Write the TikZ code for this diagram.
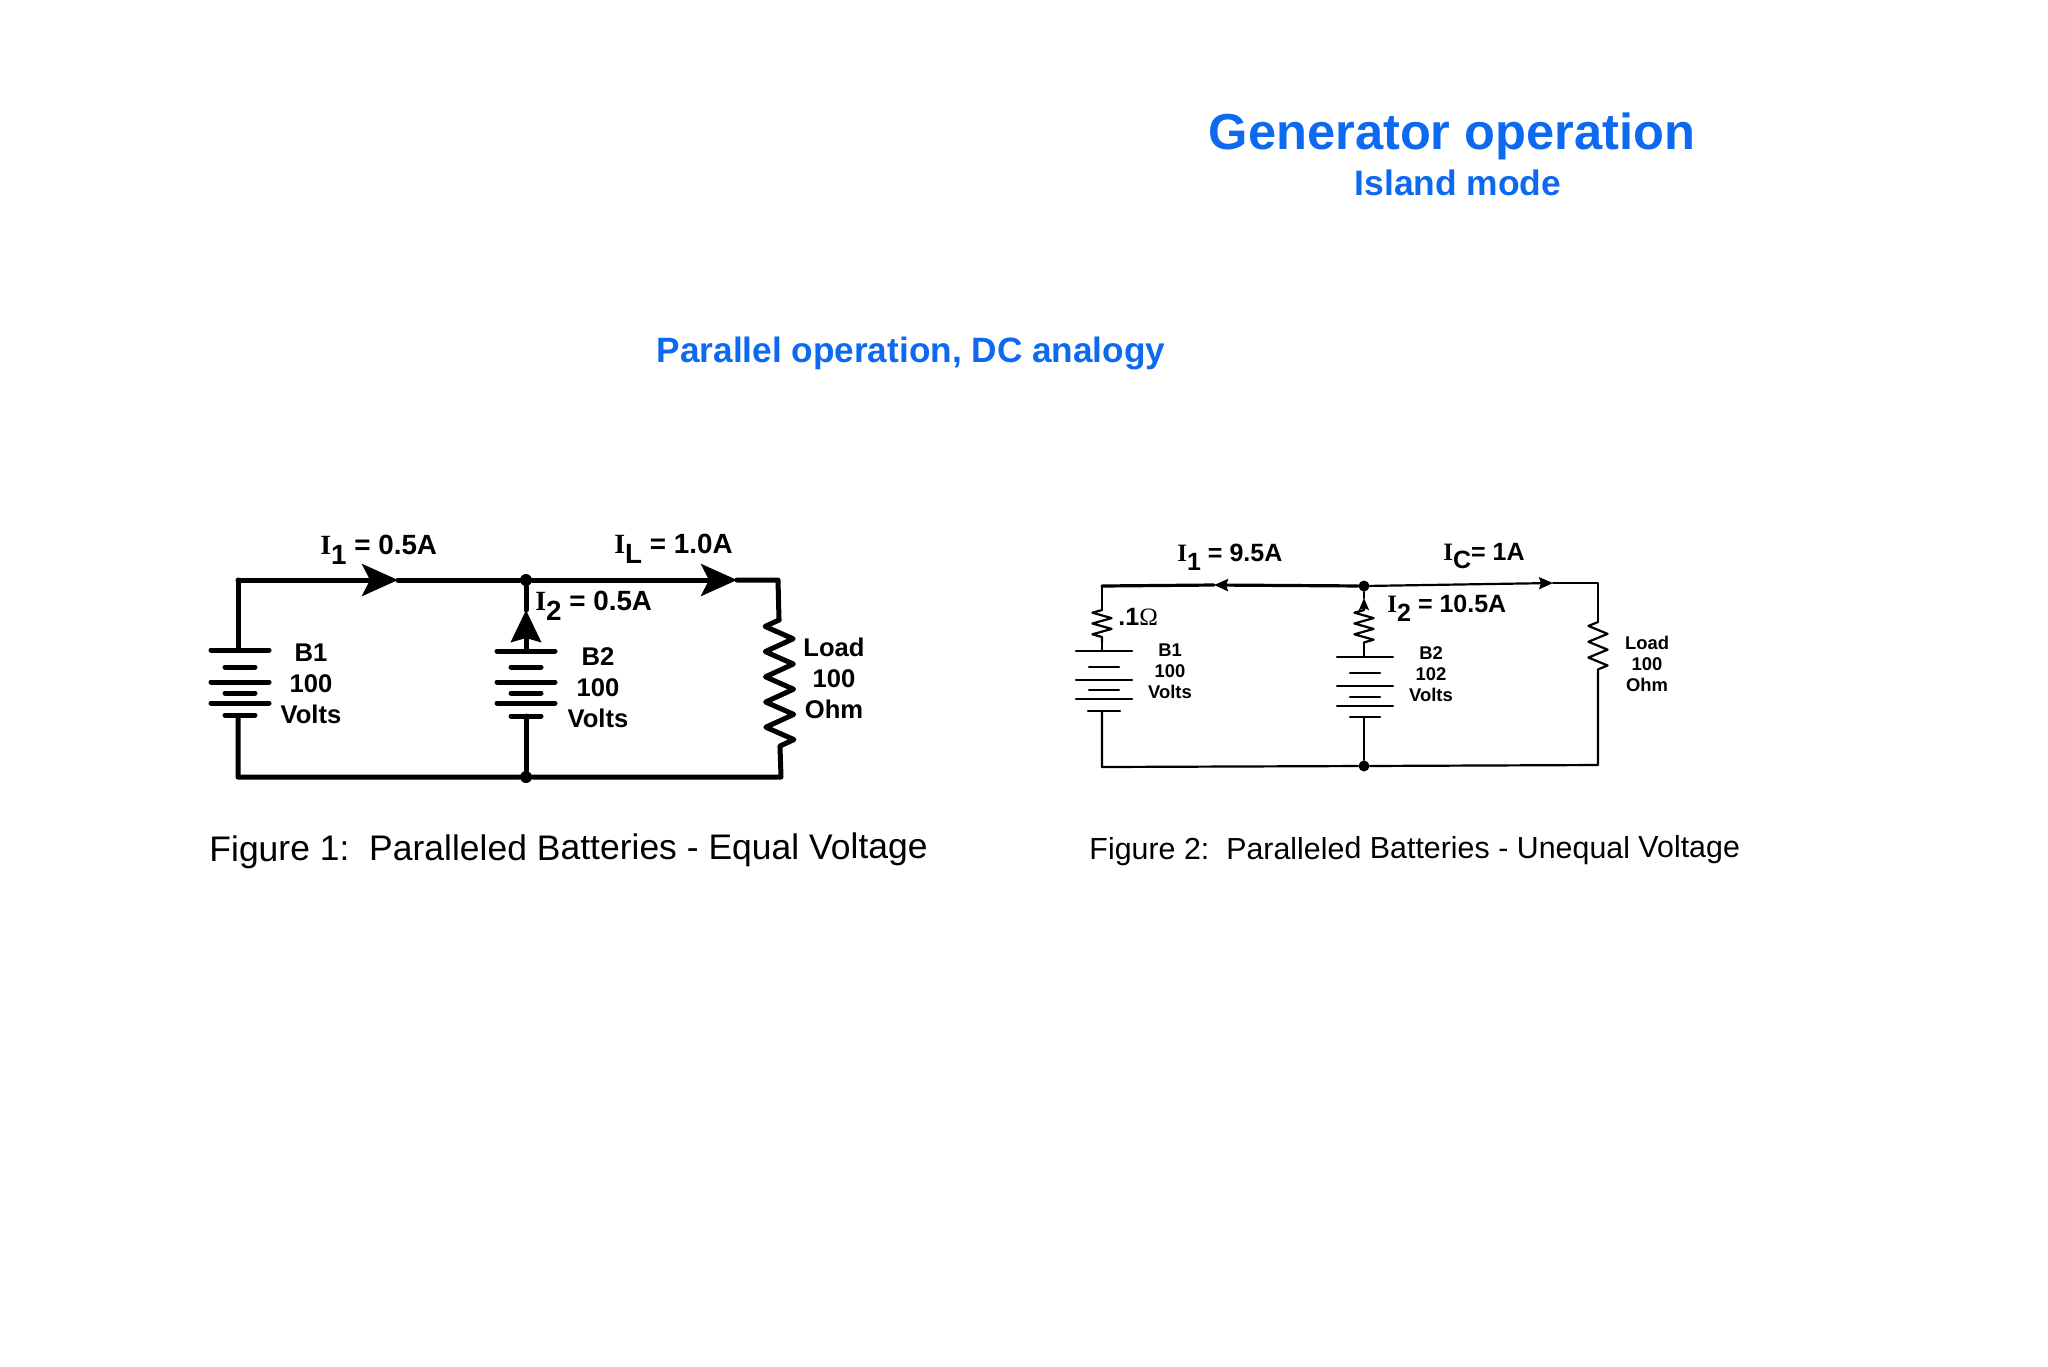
\documentclass[tikz,border=0pt]{standalone}
\usepackage{fontspec}
\setmainfont{Liberation Sans}
\newfontfamily\serifbold{Liberation Serif}
\usetikzlibrary{arrows.meta,decorations.pathmorphing}
\definecolor{titleblue}{RGB}{13,105,240}
\newcommand{\curr}[2]{{\serifbold\bfseries I}\raisebox{-.65ex}{#1}#2}
\tikzset{
    wirea/.style={line width=2.5pt,line cap=round,line join=round},
    wireb/.style={line width=1.1pt,line cap=round,line join=round},
    resa/.style={wirea,decorate,decoration={zigzag,mirror,segment length=12.6pt,amplitude=7pt}},
    resb/.style={wireb,decorate,decoration={zigzag,mirror,segment length=5.4pt,amplitude=4.8pt}},
    resc/.style={wireb,decorate,decoration={zigzag,mirror,segment length=7.9pt,amplitude=4.8pt}},
    dota/.style={circle,fill=black,inner sep=0pt,minimum size=6pt},
    dotb/.style={circle,fill=black,inner sep=0pt,minimum size=5.5pt},
    heading/.style={text=titleblue,font=\bfseries\fontsize{#1}{#1}\selectfont},
    laba/.style={font=\bfseries\fontsize{12.8pt}{15.5pt}\selectfont,align=center,inner sep=0pt},
    labb/.style={font=\bfseries\fontsize{9.2pt}{10.5pt}\selectfont,align=center,inner sep=0pt},
    curra/.style={font=\bfseries\fontsize{13.9pt}{14pt}\selectfont,anchor=west,inner sep=0pt},
    currb/.style={font=\bfseries\fontsize{12.5pt}{13pt}\selectfont,anchor=west,inner sep=0pt},
    capt/.style={font=\fontsize{#1}{#1}\selectfont,anchor=west,inner sep=0pt,rotate=0.2},
}
\begin{document}
\begin{tikzpicture}[x=0.5pt,y=-0.5pt]
    \useasboundingbox (0,0) rectangle (2048,1366);

    % headings
    \node[heading=25.3pt] (title) at (1452,136) {Generator operation};
    \node[heading=17.7pt] (mode)  at (1458,183) {Island mode};
    \node[heading=17.6pt] (par)   at (911,353)  {Parallel operation, DC analogy};

    % figure 1
    \coordinate (a1) at (238,580);
    \coordinate (a2) at (238,650);
    \coordinate (a3) at (238,716);
    \coordinate (a4) at (238,777);
    \node[dota] (aT) at (526,580) {};
    \node[dota] (aB) at (526,777) {};
    \coordinate (aP) at (526,651);
    \coordinate (aN) at (526,716);
    \coordinate (aAr) at (526,610);
    \coordinate (aR0) at (778,580);
    \coordinate (aR1) at (779,620);
    \coordinate (aR2) at (780,747);
    \coordinate (aR3) at (781,777);
    \coordinate (aAl) at (398,580);
    \coordinate (aAm) at (737,580);

    \draw[wirea,-{Stealth[length=18pt,width=16pt,inset=4pt]}] (a1) -- (aAl);
    \draw[wirea] (a2) -- (a1);
    \draw[wirea] (aAl) -- (aT);
    \draw[wirea,-{Stealth[length=18pt,width=16pt,inset=4pt]}] (aT) -- (aAm);
    \draw[wirea] (aAm) -- (aR0) -- (aR1);
    \draw[resa] (aR1) -- (aR2);
    \draw[wirea] (aR2) -- (aR3) -- (aB) -- (a4) -- (a3);
    \draw[wirea] (aN) -- (aB);
    \draw[wirea] (aT) -- (aAr);
    \draw[wirea,-{Stealth[length=16pt,width=15pt,inset=2pt]}] (aP) -- (aAr);

    \foreach \y/\w in {650/29,667/15,682/29,693/15,703/29,715/15}
        \draw[wirea] (240-\w,\y) -- (240+\w,\y);
    \foreach \y/\w in {651/29,667/15,682/29,693/15,703/29,716/15}
        \draw[wirea] (526-\w,\y) -- (526+\w,\y);

    \node[curra] (lI1) at (320,550) {\curr{1}{ = 0.5A}};
    \node[curra] (lIL) at (614,549) {\curr{L}{ = 1.0A}};
    \node[curra] (lI2) at (535,606) {\curr{2}{ = 0.5A}};
    \node[laba]  (lB1) at (311,684) {B1\\100\\Volts};
    \node[laba]  (lB2) at (598,688) {B2\\100\\Volts};
    \node[laba]  (lLa) at (834,678) {Load\\100\\Ohm};
    \node[capt=17.75pt] (capA) at (209,852) {Figure 1:\ \ Paralleled Batteries - Equal Voltage};

    % figure 2
    \coordinate (b1) at (1102,586);
    \coordinate (b2) at (1102,610);
    \coordinate (b3) at (1102,642);
    \coordinate (b4) at (1102,651);
    \coordinate (b5) at (1102,711);
    \coordinate (b6) at (1102,767);
    \node[dotb] (bT) at (1364,586) {};
    \node[dotb] (bB) at (1364,766) {};
    \coordinate (bAr) at (1364,598);
    \coordinate (bS) at (1364,610);
    \coordinate (bS2) at (1364,643);
    \coordinate (bP) at (1364,657);
    \coordinate (bN) at (1364,717);
    \coordinate (bAl) at (1214,585);
    \coordinate (bAm) at (1553,583);
    \coordinate (bR0) at (1598,583);
    \coordinate (bR1) at (1598,622);
    \coordinate (bR2) at (1598,670);
    \coordinate (bR3) at (1598,765);

    \draw[wireb] (b4) -- (b3);
    \draw[resb] (b2) -- (b3);
    \draw[wireb] (b2) -- (b1);
    \draw[wireb,line width=1.6pt] (b1) -- (bAl);
    \draw[wireb,line width=1.6pt,-{Stealth[length=7pt,width=6pt,inset=1pt]}] (bT) -- (bAl);
    \draw[wireb,-{Stealth[length=7pt,width=6pt,inset=1pt]}] (bT) -- (bAm);
    \draw[wireb] (bAm) -- (bR0) -- (bR1);
    \draw[resc] (bR1) -- (bR2);
    \draw[wireb] (bR2) -- (bR3) -- (bB) -- (b6) -- (b5);
    \draw[wireb] (bN) -- (bB);
    \draw[wireb] (bP) -- (bS2);
    \draw[resb] (bS) -- (bS2);
    \draw[wireb,-{Stealth[length=6pt,width=5pt,inset=1pt]}] (bS) -- (bAr);
    \draw[wireb] (bAr) -- (bT);

    \foreach \y/\w in {651/28,667/15,680/28,690/15,699/28,711/16}
        \draw[wireb] (1104-\w,\y) -- (1104+\w,\y);
    \foreach \y/\w in {657/28,673/15,686/28,697/15,706/28,717/15}
        \draw[wireb] (1365-\w,\y) -- (1365+\w,\y);

    \node[currb] (mI1) at (1177,557) {\curr{1}{ = 9.5A}};
    \node[currb] (mIC) at (1443,556) {\curr{C}{=\ 1A}};
    \node[currb] (mI2) at (1387,608) {\curr{2}{ = 10.5A}};
    \node[currb] (mR)  at (1118,617) {.1{\serifbold\mdseries Ω}};
    \node[labb]  (mB1) at (1170,671) {B1\\100\\Volts};
    \node[labb]  (mB2) at (1431,674) {B2\\102\\Volts};
    \node[labb]  (mLa) at (1647,664) {Load\\100\\Ohm};
    \node[capt=15.2pt] (capB) at (1089,852) {Figure 2:\ \ Paralleled Batteries - Unequal Voltage};
\end{tikzpicture}
\end{document}
